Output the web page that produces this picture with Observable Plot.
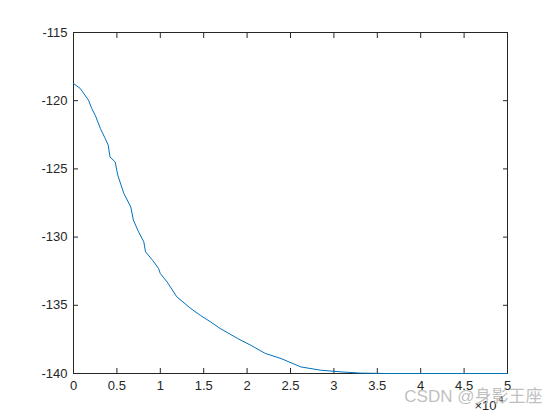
<!DOCTYPE html>
<html><head><meta charset="utf-8">
<script src="https://cdn.jsdelivr.net/npm/d3@7"></script>
<script src="https://cdn.jsdelivr.net/npm/@observablehq/plot@0.6"></script>
<style>html,body{margin:0;padding:0;background:#fff}</style>
</head><body><div id="chart"></div>
<script>
// x in units of 10^4
const xValues = [0, 0.077, 0.173, 0.21, 0.25, 0.31, 0.365, 0.40, 0.42, 0.48, 0.51, 0.58, 0.66, 0.69, 0.75, 0.81, 0.83, 0.91, 0.98, 1.0, 1.08, 1.19, 1.35, 1.46, 1.58, 1.69, 1.89, 2.04, 2.21, 2.39, 2.62, 2.85, 3.08, 3.3, 3.6, 5];
const yValues = [-118.74, -119.1, -119.96, -120.57, -121.06, -122.04, -122.77, -123.26, -124.12, -124.49, -125.46, -126.8, -127.79, -128.76, -129.62, -130.35, -131.08, -131.69, -132.3, -132.67, -133.3, -134.38, -135.23, -135.73, -136.22, -136.7, -137.43, -137.92, -138.53, -138.9, -139.52, -139.76, -139.88, -139.97, -140, -140];
const xTicks = [0, 0.5, 1, 1.5, 2, 2.5, 3, 3.5, 4, 4.5, 5];
const yTicks = [-140, -135, -130, -125, -120, -115];
const exponentBase = "×10";
const exponentPower = "4";
const watermark = "CSDN @身影王座";

const data = xValues.map((x, i) => ({x, y: yValues[i]}));
const axisColor = "#262626";
const fmt = d => String(d);

const chart = Plot.plot({
  width: 560, height: 420,
  marginLeft: 73, marginRight: 53, marginTop: 32, marginBottom: 47,
  style: {fontFamily: "'Liberation Sans', Arial, Helvetica, sans-serif", fontSize: "13px", color: axisColor, background: "#fff", overflow: "visible"},
  x: {domain: [0, 5]},
  y: {domain: [-140, -115]},
  marks: [
    Plot.axisX(xTicks, {anchor: "bottom", tickSize: -5, tickPadding: 12, tickFormat: fmt, label: null, stroke: axisColor, fill: axisColor}),
    Plot.axisX(xTicks, {anchor: "top", tickSize: -5, label: null, stroke: axisColor, fill: "none"}),
    Plot.axisY(yTicks, {anchor: "left", tickSize: -5, tickPadding: 11, tickFormat: fmt, label: null, stroke: axisColor, fill: axisColor}),
    Plot.axisY(yTicks, {anchor: "right", tickSize: -5, label: null, stroke: axisColor, fill: "none"}),
    Plot.frame({stroke: axisColor, strokeWidth: 1}),
    Plot.line(data, {x: "x", y: "y", stroke: "#0072BD", strokeWidth: 1}),
    Plot.text([exponentBase], {frameAnchor: "bottom-right", text: d => d, dx: -11, dy: 36, textAnchor: "end", fill: axisColor, fontSize: 13}),
    Plot.text([exponentPower], {frameAnchor: "bottom-right", text: d => d, dx: -4, dy: 28, textAnchor: "end", fill: axisColor, fontSize: 9}),
    Plot.text([watermark], {frameAnchor: "bottom-right", text: d => d, dx: 35, dy: 28, textAnchor: "end", fill: "#b4b4b4", fillOpacity: 0.85, fontSize: 17, fontFamily: "'Liberation Sans', 'Noto Sans CJK SC', sans-serif"})
  ]
});
document.getElementById("chart").append(chart);
</script>
</body></html>
